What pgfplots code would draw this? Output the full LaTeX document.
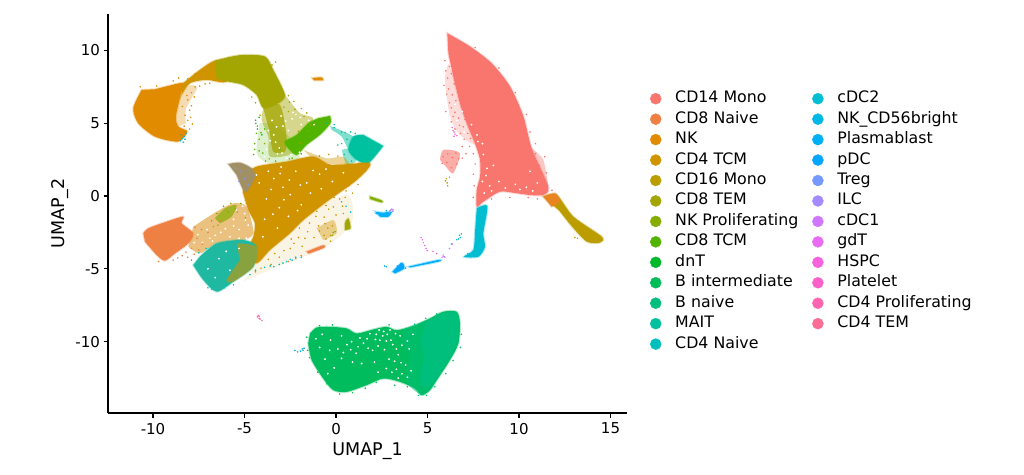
\documentclass[border=0pt]{standalone}
\usepackage{fontspec}
\setmainfont{DejaVu Sans}
\usepackage{pgfplots}
\pgfplotsset{compat=1.18}

\definecolor{c01}{HTML}{F8766D}
\definecolor{c02}{HTML}{EE8044}
\definecolor{c03}{HTML}{E08B00}
\definecolor{c04}{HTML}{CF9400}
\definecolor{c05}{HTML}{BC9D00}
\definecolor{c06}{HTML}{A3A500}
\definecolor{c07}{HTML}{85AD00}
\definecolor{c08}{HTML}{53B400}
\definecolor{c09}{HTML}{00B92B}
\definecolor{c10}{HTML}{00BC56}
\definecolor{c11}{HTML}{00BF7D}
\definecolor{c12}{HTML}{00C19F}
\definecolor{c13}{HTML}{00BFBD}
\definecolor{c14}{HTML}{00BDD3}
\definecolor{c15}{HTML}{00B8E5}
\definecolor{c16}{HTML}{00B0F6}
\definecolor{c17}{HTML}{00A6FF}
\definecolor{c18}{HTML}{7699FF}
\definecolor{c19}{HTML}{A58AFF}
\definecolor{c20}{HTML}{CF78FF}
\definecolor{c21}{HTML}{E76BF3}
\definecolor{c22}{HTML}{F763DF}
\definecolor{c23}{HTML}{FC61C9}
\definecolor{c24}{HTML}{FF64B0}
\definecolor{c25}{HTML}{FB6D95}

% dense part of a cluster: {colour}{outline}, soft rim because the cloud has no hard edge
\newcommand{\blob}[2]{\addplot[smooth,tension=0.45,draw=#1,draw opacity=0.3,line width=2pt,fill=#1,forget plot] coordinates {#2} -- cycle;}
% sparse part of a cluster: [opacity]{colour}{outline}, no rim
\newcommand{\haze}[3][0.4]{\addplot[smooth,tension=0.45,draw=none,fill=#2,fill opacity=#1,forget plot] coordinates {#3} -- cycle;}
% one legend series: {colour}{points}{name}
\newcommand{\cells}[3]{\addplot[only marks,mark=*,mark size=0.55pt,color=#1,mark options={draw=none,fill=#1}] coordinates {#2}; \addlegendentry{#3}}

\begin{document}
\begin{tikzpicture}[x=1pt,y=1pt]
\path[use as bounding box] (0,0) rectangle (1024,474);
\begin{axis}[
  at={(108pt,61pt)},
  scale only axis,
  width=519pt,
  height=399pt,
  xmin=-12.46, xmax=15.9,
  ymin=-14.9, ymax=12.5,
  axis x line*=bottom,
  axis y line*=left,
  axis line style={line width=1.1pt,black},
  tick style={line width=1.1pt,black},
  tick align=outside,
  major tick length=4.5pt,
  xtick={-10,-5,0,5,10,15},
  ytick={-10,-5,0,5,10},
  xticklabels={-10,-5,0,5,10,15},
  yticklabels={-10,-5,0,5,10},
  tick label style={font=\fontsize{15}{15}\selectfont},
  xticklabel style={yshift=-2pt},
  xlabel={UMAP\_1},
  ylabel={UMAP\_2},
  label style={font=\fontsize{17.5}{17.5}\selectfont},
  xlabel style={yshift=-1pt},
  legend style={
    at={(1.0386,0.8145)},anchor=north west,draw=none,fill=none,
    font=\fontsize{15.8}{20.4}\selectfont,
    row sep=3.45pt,
    nodes={inner ysep=1.5pt,inner xsep=14pt,text height=11pt,text depth=3pt},
  },
  legend cell align=left,
  transpose legend,
  legend columns=13,
  legend image post style={mark size=5.5pt},
]
% NK lobe and the bridge to CD8 TEM
\haze[0.3]{c03}{(-8.62,4.77) (-8.75,5.46) (-8.49,6.95) (-8.0,7.6) (-7.6,7.4) (-8.2,6) (-8.2,5)}
\blob{c03}{(-10.62,7.29) (-11.08,6.03) (-10.81,5.0) (-9.89,4.08) (-8.62,3.74) (-8.13,4.43) (-8.62,4.77) (-8.75,5.46) (-8.49,6.95) (-8.35,7.75) (-9.17,7.56) (-9.89,7.33)}
\blob{c04}{(-8.35,7.75) (-7.44,8.66) (-6.62,9.3) (-5.61,9.35) (-5.98,7.86) (-7.07,7.98) (-7.98,7.75) (-8.44,6.95)}
% CD8 TEM
\haze[0.45]{c06}{(-2.79,6.95) (-1.97,5.69) (-1.24,5.34) (-1.7,4.31) (-2.34,2.94) (-3.61,2.71) (-3.7,4.08) (-4.07,5.23) (-3.97,6.03)}
\haze[0.2]{c08}{(-4.16,5) (-4.34,2.94) (-3.61,2.25) (-2,2.5) (-2.5,4) (-3.5,5)}
\blob{c06}{(-6.62,9.24) (-5.89,9.53) (-5.07,9.69) (-3.88,9.58) (-3.43,8.66) (-2.79,6.95) (-3.16,6.37) (-3.97,6.03) (-4.34,6.95) (-5.07,7.63) (-5.89,7.86) (-6.52,8.09)}
\haze[0.75]{c06}{(-3.97,6.03) (-3.06,6.26) (-2.7,4.08) (-2.79,3.05) (-3.43,3.05) (-3.61,4.31)}
\blob{c08}{(-0.33,5.5) (-0.3,5.0) (-0.88,4.2) (-1.61,3.51) (-2.15,2.82) (-2.61,3.28) (-2.79,3.74) (-2.15,4.2) (-1.52,5.0) (-0.97,5.34)}
% MAIT and its arc
\haze[0.5]{c12}{(-0.33,4.81) (0.94,4.08) (0.67,3.28) (0.31,4.08) (-0.24,4.54)}
\haze[0.45]{c12}{(0.67,3.28) (1.13,2.48) (0.58,2.13) (0.31,3.17)}
\haze[0.4]{c04}{(-1.79,3.17) (-0.51,2.59) (0.4,2.71) (0.67,2.02) (-1.24,2.48)}
\blob{c12}{(2.58,3.44) (1.76,2.25) (1.13,2.48) (0.67,3.17) (0.94,4.08) (1.49,4.2)}
% sparse clouds round the T cell body
\haze[0.1]{c04}{(-4.34,-4.62) (-2.7,-2.79) (-1.24,-0.96) (0.67,0.07) (0.85,-1.87) (-0.7,-3.59) (-3.43,-4.97) (-5.07,-5.88)}
\haze[0.55]{c04!70!c02}{(-7.8,-2.1) (-6.52,-1.07) (-5.61,-0.5) (-4.89,-0.73) (-4.52,-2.56) (-5.25,-3.13) (-6.52,-3.25) (-7.44,-3.94) (-8.07,-3.48)}
\haze[0.7]{c07}{(-6.62,-1.53) (-6.07,-0.84) (-5.43,-0.62) (-5.71,-1.42) (-6.34,-1.87)}
% CD4 TCM
\blob{c04}{(-5.16,1.33) (-4.34,2.02) (-2.7,2.36) (-1.24,2.71) (-0.24,2.13) (1.85,2.25) (1.13,1.1) (-0.51,-0.39) (-1.79,-1.65) (-2.52,-2.56) (-3.61,-3.71) (-4.34,-4.62) (-4.89,-3.94) (-4.52,-2.79) (-4.43,-1.87) (-4.79,-0.96) (-5.07,0.19)}
\blob{c18!35!c04!70!gray}{(-5.89,2.2) (-5.25,2.29) (-4.61,1.9) (-4.43,1.33) (-4.89,0.3) (-5.16,0.65) (-5.43,1.45)}
% CD8 Naive, CD4 Naive
\blob{c02}{(-10.53,-2.56) (-10.26,-2.22) (-9.26,-1.76) (-8.35,-1.42) (-8.44,-1.87) (-7.8,-2.56) (-8.07,-3.25) (-8.8,-3.94) (-9.35,-4.44) (-9.8,-4.05) (-10.44,-3.13)}
\blob{c13!85!c04}{(-7.44,-4.17) (-6.52,-3.25) (-5.07,-3.02) (-4.34,-3.48) (-4.52,-4.85) (-5.61,-5.88) (-6.52,-6.57) (-7.25,-5.77) (-7.8,-4.74)}
\haze[0.6]{c04}{(-5.43,-3.25) (-4.34,-3.48) (-4.52,-4.85) (-5.61,-5.88) (-5.98,-5.77) (-5.25,-4.39)}
% little islands
\blob{c06}{(0.49,-1.87) (0.67,-1.53) (0.8,-2.22) (0.49,-2.33)}
\haze[0.4]{c04}{(-1.06,-2.22) (-0.15,-1.65) (0.03,-2.56) (-0.7,-3.02)}
\blob{c02}{(-1.61,-3.82) (-0.7,-3.38) (-0.65,-3.55) (-1.5,-3.95)}
\blob{c07}{(1.85,-0.02) (2.5,-0.3) (2.5,-0.45) (1.85,-0.2)}
\blob{c16}{(2.13,-1.07) (2.58,-1.14) (3.04,-1.07) (2.86,-1.42) (2.4,-1.42)}
\blob{c03}{(-1.3,8.1) (-0.8,8.15) (-0.7,7.95) (-1.2,7.95)}
% CD14 Mono
\haze[0.25]{c01}{(6.14,9.1) (5.95,8) (6.23,5.46) (6.77,4.2) (7.59,3.62) (6.77,6.37) (6.41,8.2)}
\haze[0.4]{c01}{(10.69,3.28) (11.33,2.48) (11.6,0.65)}
\haze[0.6]{c01}{(5.68,2.48) (5.86,3.17) (6.77,2.94) (6.41,1.56) (6.08,1.9)}
\blob{c01}{(6.08,11.18) (7.32,10.27) (8.5,9.12) (9.51,7.52) (10.24,5.46) (10.69,3.28) (11.6,0.65) (11.33,0.07) (10.6,0.07) (9.87,0.19) (8.96,0.3) (8.05,-0.39) (7.69,-0.73) (7.69,0.42) (7.87,1.33) (7.87,2.48) (7.59,3.62) (7.14,5.0) (6.77,6.37) (6.41,8.2) (6.14,9.81)}
% CD16 Mono
\blob{c05}{(11.33,-0.04) (12.06,0.07) (12.97,-1.42) (14.52,-2.79) (14.42,-3.2) (13.7,-3.13) (12.9,-2.1) (12.2,-1.0)}
\blob{c03!70!c01}{(11.33,-0.04) (11.97,0.19) (12.24,-0.39) (11.78,-0.73)}
% cDC2 stem
\blob{c14!90!c13}{(7.69,-0.84) (8.27,-0.68) (8.05,-2.56) (8.14,-3.48) (7.78,-4.17) (6.99,-4.17) (7.5,-3.71) (7.59,-2.56)}
% pDC, Plasmablast
\blob{c17}{(3.08,-5.2) (3.59,-4.58) (3.73,-4.97) (3.22,-5.31)}
\blob{c16}{(3.95,-4.85) (5.59,-4.39) (5.59,-4.51) (4.04,-4.9)}
% B cells
\blob{c10!85!c11}{(-1.42,-9.44) (-1.06,-9.03) (-0.33,-8.98) (0.58,-9.09) (1.13,-9.44) (2.04,-9.16) (2.76,-8.98) (3.31,-9.21) (4.22,-8.93) (5.13,-8.41) (5.86,-7.95) (6.59,-7.95) (6.77,-8.75) (6.68,-10.13) (6.22,-11.27) (5.5,-12.65) (5.13,-13.33) (4.68,-13.68) (4.31,-13.22) (3.49,-12.76) (2.58,-12.53) (1.67,-12.99) (0.58,-13.45) (-0.15,-13.33) (-0.7,-12.53) (-1.33,-11.27) (-1.52,-10.13)}
\haze[0.45]{c11}{(3.7,-9.1) (5.13,-8.41) (5.86,-7.95) (6.59,-7.95) (6.77,-8.75) (6.68,-10.13) (6.22,-11.27) (5.5,-12.65) (5.13,-13.33) (4.68,-13.68) (3.9,-12.8) (4.0,-11) (3.6,-10)}
\haze[1]{c11}{(4.9,-8.7) (5.86,-8.05) (6.59,-8.05) (6.7,-8.75) (6.6,-10.13) (6.1,-11.27) (5.4,-12.65) (4.9,-13.2) (4.6,-12.5) (4.8,-11) (4.6,-10)}
% gaps in the sparse parts of the clouds
\addplot[only marks,mark=*,mark size=0.7pt,white,mark options={draw=none,fill=white},forget plot] coordinates {
 (0.1,-10.5) (0.6,-10.2) (1.1,-10.8) (1.5,-10.1) (2.0,-10.6) (2.4,-9.9) (2.8,-9.5) (3.1,-10.2) (2.6,-9.3) (2.2,-9.5)
 (3.4,-10.9) (3.8,-11.6) (3.3,-11.9) (2.9,-11.2) (3.6,-12.2) (4.1,-12) (4.0,-10.5) (1.7,-9.8) (0.9,-11.4) (-0.6,-11.2)
 (-0.9,-10.4) (-0.3,-9.9) (0.3,-9.6) (-0.1,-11.8) (1.4,-11.5) (2.1,-11.4) (2.3,-12.1) (3.0,-9.9) (3.5,-9.6) (4.2,-9.5)
 (2.35,-9.2) (2.55,-9.6) (2.95,-9.2) (2.15,-9.85) (1.85,-9.45) (2.75,-9.95) (3.25,-9.45) (1.3,-9.75) (0.85,-10) (1.2,-10.35)
 (0.4,-10.75) (0.8,-10.55) (1.75,-10.45) (2.3,-10.3) (2.65,-10.55) (3.3,-10.5) (3.6,-10.25) (3.9,-9.95) (3.2,-11.35) (3.55,-11.45)
 (3.05,-12.1) (2.75,-11.85) (3.9,-12.45) (3.4,-12.5) (0.3,-11.15) (-0.35,-10.6) (-1.1,-9.8) (-0.75,-9.5) (1.05,-9.25) (-0.45,-12.2)
 (-3.4,1.2) (-2.9,0.6) (-2.2,1.7) (-1.6,0.9) (-0.9,1.5) (-0.2,1.0) (-3.8,-0.2) (-3.1,-0.8) (-2.5,0.1) (-1.4,0.2)
 (-4.2,0.9) (-3.7,1.7) (-2.6,-1.4) (-3.9,-1.6) (0.4,1.6) (-1.9,-0.6) (-3.2,-2.2) (-0.8,0.5) (-4.0,-2.8) (-3.0,2.0)
 (-3.05,1.55) (-2.55,1.1) (-1.95,0.75) (-1.25,1.75) (-0.55,1.85) (-3.55,0.45) (-4.35,1.45) (-2.85,-0.25) (-2.1,-1.0) (-3.45,-1.25)
 (-3.3,3.7) (-2.9,4.8) (-2.4,5.3) (-2.6,4.5) (-1.9,4.9) (-3.5,5.2) (-3.2,2.9) (-2.7,2.6) (-2.0,3.0) (-3.8,3.2)
 (-1.5,5.2) (-3.0,5.5) (-1.2,4.9) (-3.7,4.5) (-2.2,5.6) (-3.4,4.2) (-2.35,5.75) (-1.95,5.4) (-2.75,5.15) (-3.25,4.75) (-3.6,3.8) (-3.1,3.3) (-2.95,2.95) (-2.45,2.85) (-3.9,2.7)
 (-5.6,-1.6) (-5.0,-1.2) (-5.3,-2.3) (-4.8,-2.0) (-6.3,-2.5) (-6.9,-2.9) (-5.8,-2.8) (-4.9,-2.9) (-7.3,-3.2) (-5.1,-0.7)
 (-5.45,-0.95) (-4.95,-1.65) (-5.6,-2.05) (-6.05,-2.25) (-6.6,-2.7) (-7.05,-2.3) (-7.55,-2.65) (-6.75,-3.1) (-7.75,-3.2) (-5.3,-2.9)
 (-7.0,-5.0) (-6.4,-4.3) (-5.8,-5.1) (-6.0,-3.8) (-6.6,-5.6) (-5.3,-3.6)
 (7.4,4.9) (7.0,4.4) (6.6,5.2) (6.9,5.8) (6.5,6.3) (7.7,4.2) (8.2,1.4) (8.4,0.7) (8.9,1.0) (9.8,0.8) (10.4,0.6) (8.1,0.2) (8.6,2.1) (10.6,1.7)
 (8.0,1.0) (8.25,1.9) (8.5,0.35) (9.25,0.55) (10.05,0.45) (10.75,0.35) (11.0,0.9) (8.05,2.85) (8.0,3.6) (7.75,3.75)
};
% the cells themselves, in the order of the legend
\cells{c01}{(5.95,9.3) (6.0,8.6) (6.1,8.1) (5.9,7.6) (6.05,7) (6.2,6.4) (6.0,5.8) (6.3,5.1) (6.5,4.6) (7,3.9) (7.3,3.4) (7.5,2.9) (7.6,2.2) (7.5,1.5) (7.55,0.7) (6.9,2.6) (6.6,2.2) (6.2,1.3) (6.9,3.4) (7.1,2.9) (10.9,2.9) (11.1,2.1) (11.2,1.4) (11.5,1.6) (11.4,2.7) (10.9,3.6) (10.6,4.4) (10.4,5.6) (9.8,7.1) (8.9,8.8) (7.6,10.2) (11.8,0.4) (7.5,-0.1) (8.5,-0.2) (9.5,-0.1) (10.5,-0.1) (11,-0.2)
 (6.2,8.9) (6.3,8.4) (6.45,7.7) (6.15,7.35) (6.35,6.95) (6.55,6.55) (6.3,6.05) (6.5,5.75) (6.7,5.35) (6.4,5.45) (6.75,4.85) (6.95,4.75) (7.05,5.25) (6.8,4.3) (7.2,4.3) (7.35,3.95) (5.85,2.7) (6.1,2.9) (6.35,2.65) (6.55,2.95) (5.8,2.25) (6.05,2.3) (6.3,1.95) (6.7,2.55)}{CD14 Mono}
\cells{c02}{(-7.6,-2.9) (-7.3,-3.3) (-7.5,-3.7) (-7.0,-2.5) (-6.7,-2.1) (-7.9,-3.6) (-8.4,-4.1) (-8.9,-4.4) (-9.7,-4.5) (-8.1,-4.2) (-2.2,-4.3) (-2.6,-4.5) (-1.9,-4.1) (-7.35,-2.3) (-7.7,-2.15) (-6.3,-1.7) (-8.2,-3.85) (-7.75,-4.0) (-8.65,-4.25)}{CD8 Naive}
\cells{c03}{(-8.1,5.2) (-8.0,5.9) (-8.1,6.6) (-7.9,7.1) (-8.3,4.8) (-8.0,4.6) (-7.7,7.5) (-8.6,8.1) (-8.1,8.05) (-7.7,8.4) (-8.9,7.9) (-9.8,7.55) (-10.7,7.5) (-7.9,6.2)
 (-8.25,5.55) (-8.4,6.15) (-8.15,6.9) (-7.75,6.8) (-7.95,5.4) (-7.85,4.95) (-8.35,7.3) (-7.45,7.55) (-7.15,7.7) (-6.9,7.75)}{NK}
\cells{c04}{(-1.1,-1.4) (-0.4,-0.9) (0.2,-0.2) (0.4,-1.2) (-0.3,-2.7) (-0.9,-2.4) (-1.7,-2.9) (-2.5,-3.6) (-3.1,-4.2) (-2.0,-2.2) (1.6,1.7) (1.2,0.8) (0.7,0.7) (-0.1,-0.1) (-1.6,-1.2) (-2.3,-2.0) (-4.9,-0.3) (-4.95,-1.5) (-5.4,-1.1) (-0.6,-1.9) (0.0,-1.3) (-0.3,-3.1)
 (-1.45,-1.85) (-1.05,-1.05) (-0.65,-1.45) (-0.95,-2.05) (-1.55,-2.45) (-2.05,-2.85) (-2.45,-2.95) (-2.85,-3.75) (-3.35,-3.95) (-3.7,-4.35) (-0.15,-0.75) (0.35,-0.7) (0.5,-0.1) (-0.55,-0.65) (-0.45,-2.2) (-0.2,-2.05) (-0.65,-2.7) (-0.55,-2.95) (-1.2,-2.85) (-1.85,-3.45) (-2.3,-3.25) (-3.55,-4.7) (-4.1,-4.95) (-4.4,-5.2) (0.55,0.35) (0.9,0.2) (-0.9,2.75) (0.1,2.75) (-0.4,2.85)}{CD4 TCM}
\cells{c05}{(6.03,1.2) (6.07,0.9) (6.1,0.7) (13.2,-2.9) (13.05,-2.85) (5.98,1.05)}{CD16 Mono}
\cells{c06}{(-3.0,7.3) (-2.6,6.9) (-2.3,6.5) (-1.9,6.0) (-1.6,5.7) (-4.4,6.4) (-4.6,6.8) (-3.5,9.0) (-3.3,9.2) (-2.6,5.8) (-1.4,4.9) (0.55,-1.7) (0.6,-2.0)
 (-2.55,6.45) (-2.85,6.1) (-2.25,5.95) (-1.75,5.45) (-1.55,4.45) (-2.05,4.45) (-1.95,3.65) (-2.55,2.55) (-3.65,2.55) (-3.9,3.6) (-4.15,5.55)}{CD8 TEM}
\cells{c07}{(-5.5,-0.9) (-5.2,-0.5) (-5.9,-1.1) (-6.5,-1.2) (-0.15,-2.5) (-0.2,-2.7) (-0.05,-2.45) (-6.15,-0.7) (-5.75,-0.5) (-6.8,-1.7) (-6.45,-2.0)}{NK Proliferating}
\cells{c08}{(-4.4,5.2) (-4.3,4.8) (-4.35,4.3) (-4.2,3.9) (-3.9,4.6) (-4.45,3.6) (-3.05,3.2) (-3.3,2.4) (-2.4,2.6) (-1.9,2.9) (-4.1,4.35) (-4.45,3.2) (-4.2,3.1) (-3.85,2.4) (-4.0,2.95) (-4.5,2.85)}{CD8 TCM}
\cells{c09}{(-4.3,4.6) (-4.38,5.0) (-4.2,5.4) (-4.05,4.2)}{dnT}
\cells{c10}{(-1.6,-9.7) (-1.55,-10.6) (-1.45,-11.1) (-1.0,-12.1) (-0.5,-12.9) (1.6,-13.2) (0.9,-13.5) (0.2,-13.6) (-0.9,-8.9) (-0.2,-8.85) (2.9,-8.85) (3.2,-13) (2.2,-12.8)}{B intermediate}
\cells{c11}{(6.85,-9.5) (6.8,-10.4) (6.4,-11.3) (6.0,-12.2) (5.4,-13.1) (4.95,-13.7) (4.5,-13.7) (3.9,-13.1) (5.5,-8.1) (4.9,-8.4) (4.3,-8.8)}{B naive}
\cells{c12}{(0.3,4.4) (-0.1,4.7) (0.6,3.9) (1,3.8) (0.85,2.4) (0.1,3.5) (-0.55,5) (-0.1,4.9) (0.5,4.35) (0.8,4.4) (1.05,4.3) (0.3,3.6) (0.45,2.85)}{MAIT}
\cells{c13}{(-3.9,-4.9) (-3.4,-4.85) (-2.9,-4.6) (-2.4,-4.4) (-1.9,-4.2) (-3.6,-4.8) (-3.1,-4.7) (-2.7,-4.5) (-4.4,-5.1) (-4.7,-5.4) (-7.5,-3.9) (-7.1,-3.6) (-7.0,-6.3) (-6.8,-6.4) (-6.1,-6.3) (-5.6,-6.1) (-7.9,-4.4)}{CD4 Naive}
\cells{c14}{(6.75,-2.7) (6.8,-2.85) (6.7,-2.95) (6.85,-2.6) (6.6,-3.0) (6.3,-3.3) (7.6,-3.9) (7.2,-3.95) (0.8,-1.1) (0.55,-0.7) (0.3,-0.4)}{cDC2}
\cells{c15}{(-8.5,3.8) (-8.4,3.95) (-8.3,4.1) (-8.25,3.9) (-8.45,4.2) (-8.2,4.3) (-8.35,3.7) (-2.5,-4.35) (-2.2,-4.2)}{NK\_CD56bright}
\cells{c16}{(-2.25,-10.6) (-2.1,-10.7) (-1.95,-10.65) (-1.85,-10.5) (-1.75,-10.45) (-1.8,-10.6) (2.75,-1.0) (2.2,-1.2)}{Plasmablast}
\cells{c17}{(3.35,-4.8) (3.55,-4.65) (2.75,-4.85) (2.65,-4.8) (3.8,-4.95)}{pDC}
\cells{c18}{(-5.5,1.9) (-5.2,1.7) (-5.0,1.2) (-4.8,0.8) (-5.6,2.05) (-5.3,1.0)}{Treg}
\cells{c19}{(2.95,-1.0) (3.05,-0.9) (3.1,-1.05) (2.9,-1.15)}{ILC}
\cells{c20}{(5.8,-4.2) (5.9,-4.15) (5.95,-4.2) (5.85,-4.05) (3.0,-0.95) (3.12,-0.95)}{cDC1}
\cells{c21}{(4.65,-2.85) (4.72,-3.0) (4.78,-3.2) (4.85,-3.4) (4.92,-3.6) (4.98,-3.75) (6.35,-3.3) (6.2,-3.6)}{gdT}
\cells{c22}{(6.35,4.7) (6.4,4.5) (6.45,4.4) (6.5,4.25)}{HSPC}
\cells{c23}{(6.6,4.15) (6.45,4.1) (5.5,-3.95) (5.3,-3.8)}{Platelet}
\cells{c24}{(-4.25,-8.2) (-4.3,-8.3) (-4.2,-8.4)}{CD4 Proliferating}
\cells{c25}{(-4.2,-8.25) (-4.15,-8.45) (-4.05,-8.55)}{CD4 TEM}
\end{axis}
\end{tikzpicture}
\end{document}
